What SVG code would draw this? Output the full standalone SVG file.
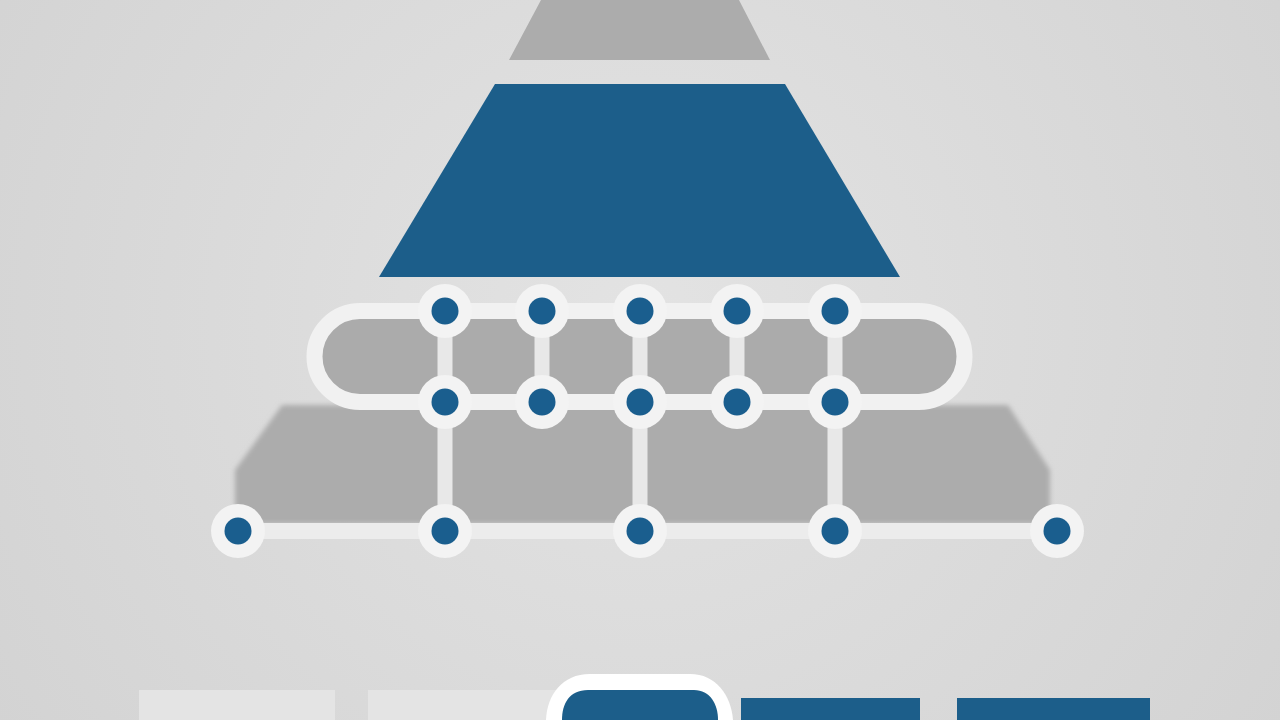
<svg xmlns="http://www.w3.org/2000/svg" width="1280" height="720" viewBox="0 0 1280 720">
  <defs>
    <radialGradient id="bg" cx="640" cy="320" r="760" gradientUnits="userSpaceOnUse">
      <stop offset="0" stop-color="#e3e3e3"/>
      <stop offset="1" stop-color="#d3d3d3"/>
    </radialGradient>
    <filter id="soft" x="-5%" y="-20%" width="110%" height="140%">
      <feGaussianBlur stdDeviation="2.5"/>
    </filter>
    <style>
      .gray { fill: #acacac; }
      .blue { fill: #1c5e8a; }
      .ring { fill: #f3f3f3; }
      .dot { fill: #1a5e8e; }
      .link { stroke: #ececec; stroke-width: 16; fill: none; }
      .vlink { stroke: #e8e8e8; stroke-width: 15; fill: none; }
      .light { fill: #e4e4e4; }
    </style>
  </defs>
  <rect width="1280" height="720" fill="url(#bg)"/>

  <g id="top-layer">
    <polygon class="gray" points="541,0 739,0 770,60 509,60"/>
  </g>
  <g id="blue-layer">
    <polygon class="blue" points="495,84 785,84 900,277 379,277"/>
  </g>
  <g id="base-block">
    <polygon class="gray" filter="url(#soft)" points="235,470 282,405 1008,405 1050,470 1050,524 235,524"/>
  </g>
  <g id="pill">
    <path d="M360,311 L919,311 A45.5,45.5 0 0 1 919,402 L360,402 A45.5,45.5 0 0 1 360,311 Z" fill="#ababab" stroke="#f1f1f1" stroke-width="16"/>
  </g>

  <g id="connectors">
    <line class="vlink" x1="445" y1="311" x2="445" y2="531"/>
    <line class="vlink" x1="542" y1="311" x2="542" y2="402"/>
    <line class="vlink" x1="640" y1="311" x2="640" y2="531"/>
    <line class="vlink" x1="737" y1="311" x2="737" y2="402"/>
    <line class="vlink" x1="835" y1="311" x2="835" y2="531"/>
    <line class="link" x1="238" y1="531" x2="1057" y2="531"/>
  </g>

  <g id="nodes">
    <g id="n-t1"><circle class="ring" cx="445" cy="311" r="27"/><circle class="dot" cx="445" cy="311" r="13.5"/></g>
    <g id="n-t2"><circle class="ring" cx="542" cy="311" r="27"/><circle class="dot" cx="542" cy="311" r="13.5"/></g>
    <g id="n-t3"><circle class="ring" cx="640" cy="311" r="27"/><circle class="dot" cx="640" cy="311" r="13.5"/></g>
    <g id="n-t4"><circle class="ring" cx="737" cy="311" r="27"/><circle class="dot" cx="737" cy="311" r="13.5"/></g>
    <g id="n-t5"><circle class="ring" cx="835" cy="311" r="27"/><circle class="dot" cx="835" cy="311" r="13.5"/></g>
    <g id="n-m1"><circle class="ring" cx="445" cy="402" r="27"/><circle class="dot" cx="445" cy="402" r="13.5"/></g>
    <g id="n-m2"><circle class="ring" cx="542" cy="402" r="27"/><circle class="dot" cx="542" cy="402" r="13.5"/></g>
    <g id="n-m3"><circle class="ring" cx="640" cy="402" r="27"/><circle class="dot" cx="640" cy="402" r="13.5"/></g>
    <g id="n-m4"><circle class="ring" cx="737" cy="402" r="27"/><circle class="dot" cx="737" cy="402" r="13.5"/></g>
    <g id="n-m5"><circle class="ring" cx="835" cy="402" r="27"/><circle class="dot" cx="835" cy="402" r="13.5"/></g>
    <g id="n-b1"><circle class="ring" cx="238" cy="531" r="27"/><circle class="dot" cx="238" cy="531" r="13.5"/></g>
    <g id="n-b2"><circle class="ring" cx="445" cy="531" r="27"/><circle class="dot" cx="445" cy="531" r="13.5"/></g>
    <g id="n-b3"><circle class="ring" cx="640" cy="531" r="27"/><circle class="dot" cx="640" cy="531" r="13.5"/></g>
    <g id="n-b4"><circle class="ring" cx="835" cy="531" r="27"/><circle class="dot" cx="835" cy="531" r="13.5"/></g>
    <g id="n-b5"><circle class="ring" cx="1057" cy="531" r="27"/><circle class="dot" cx="1057" cy="531" r="13.5"/></g>
  </g>

  <g id="bottom-row">
    <rect id="b1" class="light" x="139" y="690" width="196" height="30"/>
    <rect id="b2" class="light" x="368" y="690" width="200" height="30"/>
    <g id="b3">
      <path d="M546,720 C547,695 562,674 590,674 L690,674 C716,674 731,695 733,720 Z" fill="#ffffff"/>
      <path d="M562,720 C562,704 569,690 588,690 L694,690 C710,690 718,704 718,720 Z" class="blue"/>
    </g>
    <rect id="b4" class="blue" x="741" y="698" width="179" height="22"/>
    <rect id="b5" class="blue" x="957" y="698" width="193" height="22"/>
  </g>
</svg>
